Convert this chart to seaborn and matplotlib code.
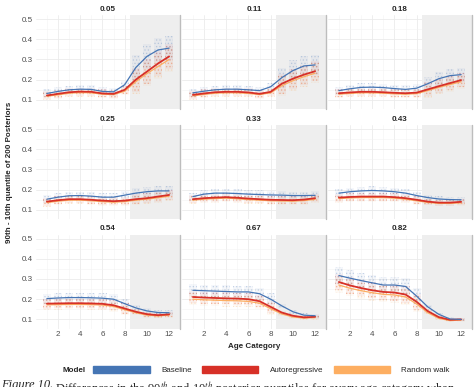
import numpy as np
import pandas as pd
import matplotlib.pyplot as plt
import seaborn as sns
from matplotlib.patches import Patch

# ── data ────────────────────────────────────────────────────
ages = list(range(1, 13))
quantiles = ['0.05', '0.11', '0.18', '0.25', '0.33', '0.43', '0.54', '0.67', '0.82']
models = ['Baseline', 'Autoregressive', 'Random walk']

baseline = {
    '0.05': [0.132, 0.142, 0.150, 0.153, 0.152, 0.142, 0.140, 0.175, 0.260, 0.315, 0.347, 0.356],
    '0.11': [0.135, 0.143, 0.150, 0.153, 0.153, 0.150, 0.146, 0.165, 0.210, 0.245, 0.268, 0.273],
    '0.18': [0.146, 0.155, 0.162, 0.163, 0.161, 0.156, 0.152, 0.158, 0.180, 0.205, 0.220, 0.225],
    '0.25': [0.153, 0.163, 0.170, 0.171, 0.168, 0.163, 0.163, 0.173, 0.183, 0.190, 0.194, 0.194],
    '0.33': [0.166, 0.178, 0.183, 0.183, 0.181, 0.178, 0.176, 0.174, 0.173, 0.171, 0.171, 0.172],
    '0.43': [0.183, 0.190, 0.194, 0.196, 0.194, 0.190, 0.183, 0.171, 0.161, 0.154, 0.151, 0.150],
    '0.54': [0.203, 0.206, 0.208, 0.208, 0.207, 0.205, 0.200, 0.178, 0.157, 0.142, 0.134, 0.133],
    '0.67': [0.244, 0.242, 0.240, 0.238, 0.236, 0.236, 0.227, 0.200, 0.167, 0.138, 0.121, 0.118],
    '0.82': [0.317, 0.304, 0.292, 0.281, 0.270, 0.270, 0.263, 0.215, 0.162, 0.125, 0.102, 0.100],
}
autoregressive = {
    '0.05': [0.122, 0.130, 0.138, 0.141, 0.140, 0.132, 0.130, 0.150, 0.200, 0.240, 0.280, 0.315],
    '0.11': [0.125, 0.132, 0.138, 0.140, 0.140, 0.137, 0.130, 0.140, 0.180, 0.205, 0.225, 0.242],
    '0.18': [0.133, 0.137, 0.140, 0.140, 0.138, 0.135, 0.133, 0.136, 0.152, 0.168, 0.183, 0.198],
    '0.25': [0.141, 0.148, 0.153, 0.153, 0.150, 0.146, 0.143, 0.146, 0.153, 0.158, 0.166, 0.174],
    '0.33': [0.153, 0.158, 0.161, 0.163, 0.160, 0.156, 0.153, 0.150, 0.149, 0.148, 0.151, 0.158],
    '0.43': [0.161, 0.164, 0.166, 0.166, 0.166, 0.163, 0.158, 0.150, 0.141, 0.136, 0.136, 0.140],
    '0.54': [0.178, 0.179, 0.180, 0.180, 0.179, 0.177, 0.170, 0.154, 0.138, 0.126, 0.121, 0.125],
    '0.67': [0.211, 0.208, 0.206, 0.204, 0.203, 0.200, 0.190, 0.162, 0.134, 0.118, 0.110, 0.113],
    '0.82': [0.285, 0.268, 0.255, 0.244, 0.236, 0.233, 0.223, 0.187, 0.141, 0.111, 0.098, 0.100],
}
random_walk = {
    '0.05': [0.118, 0.125, 0.133, 0.136, 0.135, 0.128, 0.126, 0.143, 0.190, 0.230, 0.265, 0.300],
    '0.11': [0.120, 0.127, 0.133, 0.135, 0.135, 0.132, 0.126, 0.135, 0.170, 0.195, 0.215, 0.232],
    '0.18': [0.128, 0.132, 0.135, 0.135, 0.133, 0.130, 0.128, 0.131, 0.146, 0.162, 0.176, 0.190],
    '0.25': [0.136, 0.143, 0.148, 0.148, 0.145, 0.141, 0.138, 0.141, 0.148, 0.153, 0.160, 0.168],
    '0.33': [0.148, 0.153, 0.156, 0.158, 0.155, 0.151, 0.148, 0.145, 0.144, 0.143, 0.146, 0.152],
    '0.43': [0.156, 0.159, 0.161, 0.161, 0.161, 0.158, 0.153, 0.145, 0.137, 0.132, 0.132, 0.135],
    '0.54': [0.172, 0.173, 0.174, 0.174, 0.173, 0.171, 0.164, 0.148, 0.133, 0.121, 0.117, 0.121],
    '0.67': [0.200, 0.197, 0.195, 0.193, 0.192, 0.189, 0.180, 0.153, 0.127, 0.112, 0.106, 0.109],
    '0.82': [0.270, 0.254, 0.242, 0.232, 0.224, 0.221, 0.211, 0.176, 0.133, 0.105, 0.094, 0.097],
}
# half-width of the posterior point clouds (ages 1-8, ages 9-12)
spread_young = [0.020, 0.020, 0.020, 0.020, 0.020, 0.020, 0.025, 0.030, 0.040]
spread_old = [0.060, 0.050, 0.035, 0.025, 0.020, 0.015, 0.012, 0.010, 0.008]

model_colors = {'Baseline': '#4575B4', 'Autoregressive': '#D73027', 'Random walk': '#FDAE61'}
line_widths = {'Baseline': 0.9, 'Autoregressive': 1.3, 'Random walk': 0.9}

rows = []
for q in quantiles:
    for m, src in zip(models, [baseline, autoregressive, random_walk]):
        for a, v in zip(ages, src[q]):
            rows.append({'Quantile': q, 'Model': m, 'Age': a, 'Value': v})
df = pd.DataFrame(rows)

# ── figure ──────────────────────────────────────────────────
sns.set_theme(style='white')
plt.rcParams['font.family'] = ['Liberation Sans', 'DejaVu Sans']
plt.rcParams['mathtext.fontset'] = 'stix'
plt.rcParams['hatch.linewidth'] = 0.6

W, H = 474, 387
fig = plt.figure(figsize=(W / 100, H / 100), dpi=100)

col_left = [36, 182, 328]
row_top = [15, 125, 234.5]
pw, ph = 144, 94
xlim = (0.02, 12.98)
ylim = (0.055, 0.52)
fs = 5.8

for i, q in enumerate(quantiles):
    r, c = divmod(i, 3)
    ax = fig.add_axes([col_left[c] / W, 1 - (row_top[r] + ph) / H, pw / W, ph / H])
    ax.set_xlim(*xlim)
    ax.set_ylim(*ylim)
    ax.set_axisbelow(True)
    ax.set_xticks([2, 4, 6, 8, 10, 12])
    ax.set_xticks([1, 3, 5, 7, 9, 11], minor=True)
    ax.set_yticks([0.1, 0.2, 0.3, 0.4, 0.5])
    ax.set_yticks([0.15, 0.25, 0.35, 0.45], minor=True)
    ax.grid(which='major', color='#EBEBEB', lw=0.6)
    ax.grid(which='minor', color='#F3F3F3', lw=0.4)
    for s in ax.spines.values():
        s.set_visible(False)

    # held-out age categories
    ax.axvspan(8.5, xlim[1], color='#EEEEEE', lw=0, zorder=0.8)
    ax.axvline(xlim[1], color='#BDBDBD', lw=1.0, clip_on=False, zorder=0.9)

    # posterior clouds, drawn as faint dotted strips
    spreads = np.array([spread_young[i]] * 8 + [spread_old[i]] * 4)
    for m, src in zip(models, [baseline, autoregressive, random_walk]):
        vals = np.array(src[q])
        ax.bar(ages, 2 * spreads, bottom=vals - spreads, width=0.75,
               color=model_colors[m], alpha=0.05, lw=0, zorder=1)
        ax.bar(ages, 2 * spreads, bottom=vals - spreads, width=0.75,
               facecolor='none', edgecolor=model_colors[m], hatch='.....',
               alpha=0.22, lw=0, zorder=1.1)

    sub = df[df['Quantile'] == q]
    sns.lineplot(data=sub, x='Age', y='Value', hue='Model', size='Model',
                 palette=model_colors, sizes=line_widths, hue_order=models[::-1],
                 legend=False, ax=ax, zorder=3)

    ax.set_title(q, fontsize=fs, fontweight='bold', pad=3)
    ax.set_xlabel('')
    ax.set_ylabel('')
    ax.tick_params(length=0, labelsize=fs, colors='#4D4D4D', pad=2)
    if c > 0:
        ax.set_yticklabels([])
    else:
        ax.set_yticklabels(['0.1', '0.2', '0.3', '0.4', '0.5'])
    if r < 2:
        ax.set_xticklabels([])

fig.text(10 / W, 1 - 172 / H, '90th - 10th quantile of 200 Posteriors', rotation=90,
         ha='center', va='center', fontsize=fs, fontweight='bold')
fig.text(254.5 / W, 1 - 347 / H, 'Age Category', ha='center', va='center',
         fontsize=fs, fontweight='bold')

# legend
fig.text(63 / W, 1 - 370 / H, 'Model', ha='left', va='center', fontsize=fs, fontweight='bold')
handles = [Patch(color=model_colors[m], label=m) for m in models]
fig.legend(handles=handles, loc='center', bbox_to_anchor=(271.5 / W, 1 - 370 / H),
           ncol=3, frameon=False, fontsize=fs, handlelength=7.0, handleheight=0.9,
           handletextpad=1.4, columnspacing=1.3, borderaxespad=0, borderpad=0)

# caption (cut off at the bottom of the image, as in the source page)
fig.text(1 / W, 1 - 379 / H, 'Figure 10.', ha='left', va='top', fontsize=9.0,
         family='Liberation Serif', style='italic')
fig.text(55 / W, 1 - 379 / H,
         'Differences in the 90$^{th}$ and 10$^{th}$ posterior quantiles for every age category when',
         ha='left', va='top', fontsize=9.0, family='Liberation Serif')

fig.savefig('out.png', dpi=100)
